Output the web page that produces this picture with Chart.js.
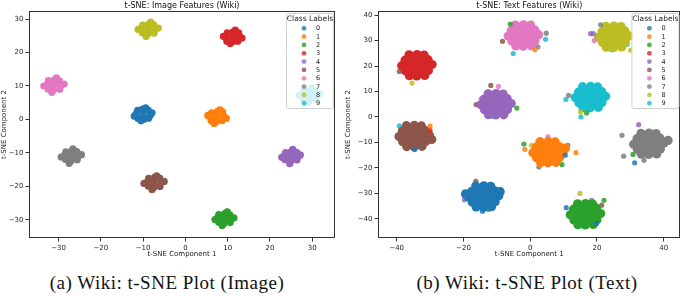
<!DOCTYPE html>
<html>
<head>
<meta charset="utf-8">
<script src="https://cdn.jsdelivr.net/npm/chart.js@4"></script>
<style>
  body { margin: 0; background: #fff; width: 685px; height: 296px; position: relative; overflow: hidden; }
  canvas { position: absolute; top: 0; }
  #imgChart { left: 0; }
  #txtChart { left: 340px; }
  .cap { position: absolute; top: 272px; font-family: "Liberation Serif", serif; font-size: 19px; letter-spacing: 0.5px;
         color: #111; white-space: nowrap; transform: translateX(-50%); }
</style>
</head>
<body>
<canvas id="imgChart" width="340" height="259"></canvas>
<canvas id="txtChart" width="345" height="259"></canvas>
<div class="cap" style="left:167px">(a) Wiki: t-SNE Plot (Image)</div>
<div class="cap" style="left:527px">(b) Wiki: t-SNE Plot (Text)</div>
<script>
const classLabels = ['0', '1', '2', '3', '4', '5', '6', '7', '8', '9'];
const classColors = ['#1f77b4', '#ff7f0e', '#2ca02c', '#d62728', '#9467bd', '#8c564b', '#e377c2', '#7f7f7f', '#bcbd22', '#17becf'];

const imgXTicks = [-30, -20, -10, 0, 10, 20, 30];
const imgYTicks = [-30, -20, -10, 0, 10, 20, 30];
const txtXTicks = [-40, -20, 0, 20, 40];
const txtYTicks = [-40, -30, -20, -10, 0, 10, 20, 30, 40];

// image features: one tight blob per class
const imgPoints = [
  [[-10,1.5],[-11.7,1.6],[-8.3,1.3],[-10.1,3.1],[-9.9,0],[-11.3,2.7],[-8.8,2.8],[-11.2,0.3],[-8.7,0.4],[-12.1,1.0],[-7.9,2.0],[-10.5,-0.4],[-9.4,3.5]],
  [[7.5,0.8],[5.9,0.6],[9.1,1.1],[7.6,2.4],[7.3,-0.7],[6.2,2.0],[8.8,2.3],[6.1,-0.4],[8.7,-0.3],[5.3,1.2],[9.7,0.3],[6.8,-1.2],[8.2,2.9]],
  [[9.2,-29.6],[7.6,-29.4],[10.8,-29.8],[9.3,-28.1],[9.1,-31.1],[7.9,-28.4],[10.5,-28.5],[7.9,-30.7],[10.6,-30.8],[7.0,-29.9],[11.5,-29.4],[8.7,-31.7],[9.9,-27.6]],
  [[11.2,24.7],[9.6,24.5],[12.8,24.9],[11.3,26.2],[11.1,23.2],[9.9,25.9],[12.6,25.9],[9.8,23.4],[12.4,23.4],[9.0,24.8],[13.4,24.3],[10.6,22.7],[11.8,26.7]],
  [[25,-11],[23.4,-10.8],[26.6,-11.2],[25.1,-9.5],[24.9,-12.5],[23.7,-9.9],[26.3,-9.8],[23.6,-12.0],[26.4,-12.1],[22.8,-11.3],[27.2,-10.6],[24.7,-13.2],[25.4,-8.9]],
  [[-7.4,-18.8],[-9.0,-18.6],[-5.8,-19.0],[-7.3,-17.3],[-7.5,-20.3],[-8.7,-17.6],[-6.1,-17.5],[-8.8,-19.9],[-6.0,-20.0],[-9.8,-19.1],[-5.0,-18.5],[-7.9,-20.9],[-6.8,-16.8]],
  [[-31.1,10.3],[-32.7,10.5],[-29.5,10.1],[-31.0,11.8],[-31.2,8.8],[-32.4,11.6],[-29.8,11.5],[-32.5,9.1],[-29.7,9.0],[-33.5,10.0],[-28.7,10.6],[-31.6,8.1],[-30.5,12.4]],
  [[-27,-10.9],[-28.6,-10.7],[-25.4,-11.1],[-26.9,-9.4],[-27.1,-12.4],[-28.3,-9.7],[-25.7,-9.6],[-28.4,-11.9],[-25.6,-12.0],[-29.4,-11.2],[-24.6,-10.5],[-27.5,-13.1],[-26.6,-8.8]],
  [[-8.8,27],[-10.4,27.2],[-7.2,26.8],[-8.7,28.5],[-8.9,25.5],[-10.1,28.2],[-7.5,28.3],[-10.2,25.9],[-7.4,25.8],[-11.2,26.9],[-6.4,27.3],[-9.3,24.8],[-8.2,29.1]],
  [[29.4,7.3],[27.8,7.5],[31.0,7.1],[29.5,8.8],[29.3,5.8],[28.1,8.6],[30.7,8.5],[28.0,6.2],[30.8,6.1],[27.0,7.2],[31.8,7.6],[29.0,5.1],[29.9,9.4]]
];

// text features: dense core of each class
const txtCore = [
  [[-14,-31.2],[-11.7,-31.0],[-16.3,-31.3],[-12.8,-29.1],[-15.1,-29.2],[-12.9,-33.3],[-15.2,-33.2],[-9.4,-30.9],[-18.5,-31.4],[-10.6,-29.0],[-17.5,-29.2],[-10.5,-33.3],[-17.4,-33.4],[-11.8,-27.2],[-16.3,-27.1],[-13.9,-27.0],[-11.6,-35.2],[-16.2,-35.3],[-14,-35.4],[-19.4,-30.2],[-9.0,-29.3]],
  [[5.3,-13.8],[7.6,-13.6],[3.0,-13.9],[6.5,-11.7],[4.2,-11.8],[6.4,-15.9],[4.1,-15.8],[9.9,-13.5],[0.8,-14.0],[8.7,-11.6],[1.8,-11.8],[8.8,-15.9],[1.9,-16.0],[7.5,-9.8],[3.0,-9.7],[5.4,-9.6],[7.7,-17.8],[3.1,-17.9],[5.3,-18.0],[10.6,-12.2]],
  [[16.5,-38.2],[18.8,-38.0],[14.2,-38.3],[17.7,-36.1],[15.4,-36.2],[17.6,-40.3],[15.3,-40.2],[21.1,-37.9],[12.0,-38.4],[19.9,-36.0],[13.0,-36.2],[20.0,-40.3],[13.1,-40.4],[18.7,-34.2],[14.2,-34.1],[16.6,-34.0],[18.9,-42.2],[14.3,-42.3],[16.5,-42.4]],
  [[-34,20.3],[-31.7,20.5],[-36.3,20.2],[-32.8,22.4],[-35.1,22.3],[-32.9,18.2],[-35.2,18.3],[-29.4,20.6],[-38.5,20.1],[-30.6,22.5],[-37.5,22.3],[-30.5,18.2],[-37.4,18.1],[-31.8,24.3],[-36.3,24.4],[-33.9,24.5],[-31.6,16.3],[-36.2,16.2],[-34,16.1]],
  [[-10.3,5],[-8.0,5.2],[-12.6,4.9],[-9.1,7.1],[-11.4,7.0],[-9.2,2.9],[-11.5,3.0],[-5.7,5.3],[-14.8,4.8],[-6.9,7.2],[-13.8,7.0],[-6.8,2.9],[-13.7,2.8],[-8.1,9.0],[-12.6,9.1],[-10.2,9.2],[-7.9,1.0],[-12.5,0.9],[-10.3,0.8]],
  [[-34.8,-7.5],[-32.5,-7.3],[-37.1,-7.6],[-33.6,-5.4],[-35.9,-5.5],[-33.7,-9.6],[-36.0,-9.5],[-30.2,-7.2],[-39.3,-7.7],[-31.4,-5.3],[-38.3,-5.5],[-31.3,-9.6],[-38.2,-9.7],[-32.6,-3.5],[-37.1,-3.4],[-34.7,-3.3],[-32.4,-11.5],[-37.0,-11.6],[-34.8,-11.7],[-29.5,-8.8]],
  [[-2.1,32],[0.2,32.2],[-4.4,31.9],[-0.9,34.1],[-3.2,34.0],[-1.0,29.9],[-3.3,30.0],[2.5,32.3],[-6.6,31.8],[1.3,34.2],[-5.6,34.0],[1.4,29.9],[-5.5,29.8],[0.1,36.0],[-4.4,36.1],[-2.0,36.2],[0.3,28.0],[-4.3,27.9],[-2.1,27.8]],
  [[35.5,-10.5],[37.8,-10.3],[33.2,-10.6],[36.7,-8.4],[34.4,-8.5],[36.6,-12.6],[34.3,-12.5],[40.1,-10.2],[31.0,-10.7],[38.9,-8.3],[32.0,-8.5],[39.0,-12.6],[32.1,-12.7],[37.7,-6.5],[33.2,-6.4],[35.6,-6.3],[37.9,-14.5],[33.3,-14.6],[35.5,-14.7],[41.3,-9.2]],
  [[25,31.5],[27.3,31.7],[22.7,31.4],[26.2,33.6],[23.9,33.5],[26.1,29.4],[23.8,29.5],[29.6,31.8],[20.5,31.3],[28.4,33.7],[21.5,33.5],[28.5,29.4],[21.6,29.3],[27.2,35.5],[22.7,35.6],[25.1,35.7],[27.4,27.5],[22.8,27.4],[25,27.3]],
  [[18,7.8],[20.3,8.0],[15.7,7.7],[19.2,9.9],[16.9,9.8],[19.1,5.7],[16.8,5.8],[22.6,8.1],[13.5,7.6],[21.4,10.0],[14.5,9.8],[21.5,5.7],[14.6,5.6],[20.2,11.8],[15.7,11.9],[18.1,12.0],[20.4,3.8],[15.8,3.7],[18,3.6]]
];

// text features: stray points landing in other clusters
const txtStray = [
  [[-34.6,-12.8],[10.5,-15],[10.8,-35.6],[19.9,-41.8],[31.3,-18],[-14.3,-37]],
  [[-1.6,-12.7],[13.7,-14],[1.4,26.4],[-30,-3.6]],
  [[-12.5,-36.3],[9.5,-18.7],[22.1,-32.7],[-6,36.5],[-4,3.5],[16.9,1.6],[30.8,-14.7],[-1.9,-10.6]],
  [[-30,-5.2]],
  [[-19.7,-32.5],[32.5,-3.0],[18.1,32.7],[18.9,32.7]],
  [[-16.3,-25.3],[21.4,-34.6],[-11.8,12.4],[-16.2,4.9],[-8.3,29.7],[-39.2,17.9]],
  [[-9.5,12],[-14.7,7.1],[-8,0],[19.2,30],[5.3,-7.8]],
  [[2.6,-19.6],[11.3,-11.1],[18.4,-32.7],[4.8,32.9],[2.3,27.5],[21.1,36.2],[11.5,8.5],[27.5,-7.2],[28,-15.4],[34.1,-17]],
  [[0.4,-11.1],[2.3,-9.5],[14.9,-30],[19.9,-34.9],[0.4,36.9],[30.1,26.2],[-35.4,13.3],[15.1,2]],
  [[17.7,-33.7],[4.6,30.5],[-5.1,24.9],[24.4,26.4],[29,28.5],[10.7,6.9],[15.2,0],[-11.2,0.3],[-39.2,-3.5]]
];

const FONT = '"DejaVu Sans", sans-serif';

function toXY(arr) {
  return arr.map(p => ({ x: p[0], y: p[1] }));
}

function withAlpha(hex, a) {
  const n = parseInt(hex.slice(1), 16);
  return `rgba(${n >> 16},${(n >> 8) & 255},${n & 255},${a})`;
}

const minus = v => String(v).replace('-', '\u2212');

// frame, title and matplotlib-like legend box
const decor = {
  id: 'decor',
  afterDatasetsDraw(chart) {
    const ctx = chart.ctx;
    const ca = chart.chartArea;
    ctx.save();
    ctx.strokeStyle = '#333';
    ctx.lineWidth = 1;
    ctx.strokeRect(Math.round(ca.left) + 0.5, Math.round(ca.top) + 0.5,
                   Math.round(ca.right - ca.left) - 1, Math.round(ca.bottom - ca.top) - 1);

    ctx.fillStyle = '#111';
    ctx.font = '8px ' + FONT;
    ctx.textAlign = 'center';
    ctx.textBaseline = 'middle';
    ctx.fillText(chart.options.plugins.decor.title, (ca.left + ca.right) / 2, 5.5);

    const w = 47, h = 95;
    const x0 = ca.right - 2 - w, y0 = ca.top + 2;
    ctx.beginPath();
    ctx.roundRect(x0 + 0.5, y0 + 0.5, w, h, 2);
    ctx.fillStyle = 'rgba(255,255,255,0.8)';
    ctx.fill();
    ctx.strokeStyle = '#d0d0d0';
    ctx.stroke();
    ctx.fillStyle = '#222';
    ctx.font = '7.5px ' + FONT;
    ctx.fillText('Class Labels', x0 + w / 2 + 0.5, y0 + 6.5);
    ctx.font = '6.5px ' + FONT;
    ctx.textAlign = 'left';
    classLabels.forEach((lab, i) => {
      const y = y0 + 15.3 + i * 8.33;
      ctx.beginPath();
      ctx.arc(x0 + 18, y, 2.4, 0, Math.PI * 2);
      ctx.fillStyle = withAlpha(classColors[i], 0.8);
      ctx.fill();
      ctx.fillStyle = '#222';
      ctx.fillText(lab, x0 + 30, y + 0.5);
    });
    ctx.restore();
  }
};

function makeScales(xTicks, yTicks, xr, yr, yWidth) {
  const common = {
    type: 'linear',
    grid: { display: true, drawOnChartArea: false, drawTicks: true, tickLength: 3.5, color: '#333' },
    border: { display: false },
    ticks: { font: { size: 7, family: FONT }, color: '#222', padding: 2, callback: minus }
  };
  return {
    x: Object.assign({}, common, {
      min: xr[0], max: xr[1],
      afterBuildTicks: s => { s.ticks = xTicks.map(v => ({ value: v })); },
      afterFit: s => { s.height = 21; },
      title: { display: true, text: 't-SNE Component 1', font: { size: 7, family: FONT }, color: '#222', padding: { top: 0, bottom: 1 } }
    }),
    y: Object.assign({}, common, {
      min: yr[0], max: yr[1],
      afterBuildTicks: s => { s.ticks = yTicks.map(v => ({ value: v })); },
      afterFit: s => { s.width = yWidth; },
      title: { display: true, text: 't-SNE Component 2', font: { size: 7, family: FONT }, color: '#222', padding: { top: 0, bottom: 0 } }
    })
  };
}

function makeChart(id, datasets, title, scales, padding) {
  return new Chart(document.getElementById(id), {
    type: 'scatter',
    data: { datasets },
    options: {
      responsive: false,
      animation: false,
      devicePixelRatio: 1,
      layout: { padding },
      plugins: { legend: { display: false }, tooltip: { enabled: false }, decor: { title } },
      scales
    },
    plugins: [decor]
  });
}

const imgSets = imgPoints.map((pts, i) => ({
  label: classLabels[i],
  data: toXY(pts),
  pointRadius: 3.6,
  pointBorderWidth: 0,
  pointBorderColor: classColors[i],
  backgroundColor: classColors[i]
}));

const txtSets = [];
txtCore.forEach((pts, i) => {
  txtSets.push({ label: classLabels[i], data: toXY(pts), pointRadius: 4.6, pointBorderWidth: 0,
                 pointBorderColor: classColors[i], backgroundColor: classColors[i] });
  txtSets.push({ label: classLabels[i], data: toXY(txtStray[i]), pointRadius: 2.6, pointBorderWidth: 0,
                 pointBorderColor: classColors[i], backgroundColor: withAlpha(classColors[i], 0.85) });
});

makeChart('imgChart', imgSets, 't-SNE: Image Features (Wiki)',
  makeScales(imgXTicks, imgYTicks, [-37, 35.4], [-35.4, 32.4], 29),
  { top: 11, right: 5, left: 0, bottom: 0 });

makeChart('txtChart', txtSets, 't-SNE: Text Features (Wiki)',
  makeScales(txtXTicks, txtYTicks, [-45.6, 45], [-47.5, 41.6], 34),
  { top: 11, right: 2, left: 4, bottom: 0 });
</script>
</body>
</html>
